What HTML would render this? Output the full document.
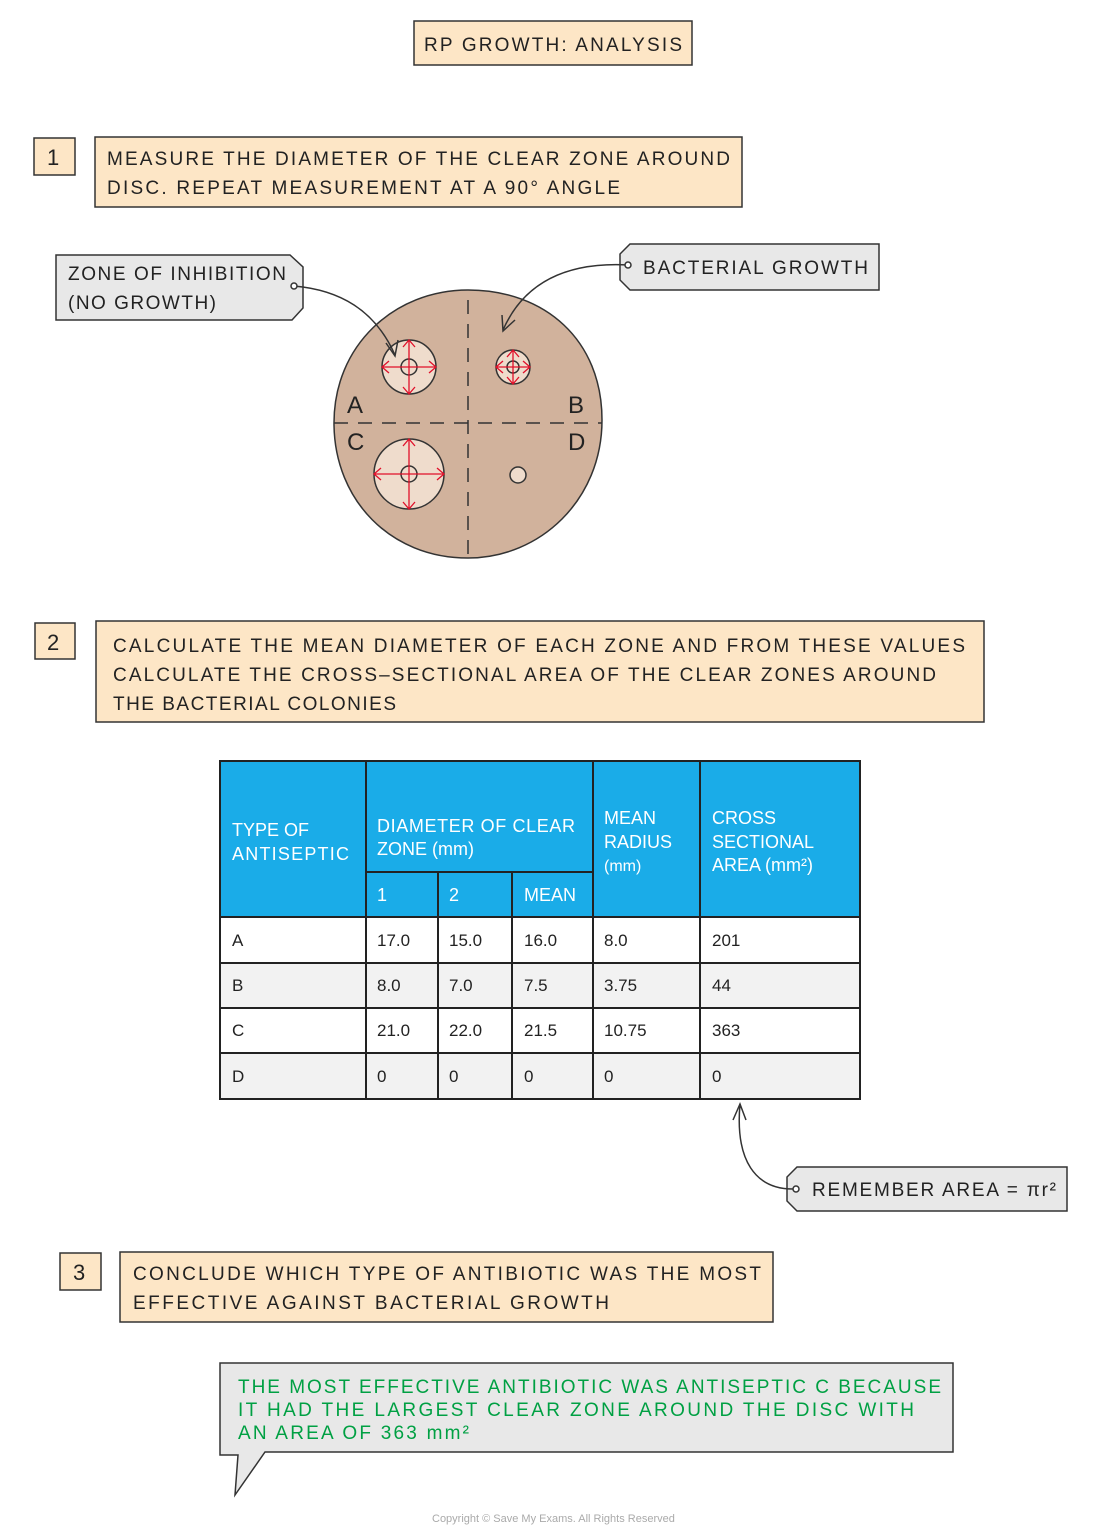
<!DOCTYPE html>
<html><head><meta charset="utf-8"><style>
html,body{margin:0;padding:0;background:#fff;}
svg{display:block;}
text{font-family:"Liberation Sans",sans-serif;}
</style></head><body>
<svg width="1100" height="1538" viewBox="0 0 1100 1538" xmlns="http://www.w3.org/2000/svg">
<defs>
<marker id="ar" markerWidth="14" markerHeight="14" refX="9" refY="7" orient="auto-start-reverse" markerUnits="userSpaceOnUse">
<path d="M2,1 L9,7 L2,13" fill="none" stroke="#e0102a" stroke-width="1.3"/></marker>
</defs>
<g font-size="19" fill="#222" stroke="#333" stroke-width="1.5">
<rect x="414" y="21" width="278" height="44" fill="#fde6c6"/>
<text x="424" y="51" stroke="none" textLength="258">RP  GROWTH:  ANALYSIS</text>

<rect x="34" y="138" width="41" height="37" fill="#fde6c6"/>
<text x="47" y="165" stroke="none" font-size="22">1</text>
<rect x="95" y="137" width="647" height="70" fill="#fde6c6"/>
<text x="107" y="165" stroke="none" textLength="623">MEASURE  THE  DIAMETER  OF  THE  CLEAR  ZONE  AROUND</text>
<text x="107" y="194" stroke="none" textLength="513">DISC.  REPEAT  MEASUREMENT  AT  A  90° ANGLE</text>

<path d="M56,255 H290 L303,267 V308 L292,320 H56 Z" fill="#e8e8e8"/>
<text x="68" y="280" stroke="none" textLength="218">ZONE  OF  INHIBITION</text>
<text x="68" y="309" stroke="none" textLength="148">(NO  GROWTH)</text>
<path d="M630,244 H879 V290 H630 L620,280 V254 Z" fill="#e8e8e8"/>
<text x="643" y="274" stroke="none" textLength="225">BACTERIAL   GROWTH</text>

<path d="M468,290 C545,290 602,340 602,420 C602,500 540,558 468,558 C390,558 335,500 334,425 C333,345 395,290 468,290 Z" fill="#d1b29c"/>
<g stroke-dasharray="14,10">
<line x1="468" y1="300" x2="468" y2="556"/>
<line x1="334" y1="423" x2="602" y2="423"/>
</g>
<text x="347" y="413" stroke="none" font-size="24">A</text>
<text x="568" y="413" stroke="none" font-size="24">B</text>
<text x="347" y="450" stroke="none" font-size="24">C</text>
<text x="568" y="450" stroke="none" font-size="24">D</text>
<circle cx="409" cy="367" r="27" fill="#efdccc"/>
<circle cx="409" cy="367" r="8" fill="none"/>
<circle cx="513" cy="367" r="17" fill="#efdccc"/>
<circle cx="513" cy="367" r="6" fill="none"/>
<circle cx="409" cy="474" r="35" fill="#efdccc"/>
<circle cx="409" cy="474" r="8" fill="none"/>
<circle cx="518" cy="475" r="8" fill="#efdccc"/>
<g stroke="#e0102a" stroke-width="1.3" marker-start="url(#ar)" marker-end="url(#ar)">
<line x1="382" y1="367" x2="436" y2="367"/><line x1="409" y1="340" x2="409" y2="394"/>
<line x1="496" y1="367" x2="530" y2="367"/><line x1="513" y1="350" x2="513" y2="384"/>
<line x1="374" y1="474" x2="444" y2="474"/><line x1="409" y1="439" x2="409" y2="509"/>
</g>
<g fill="none">
<path d="M294,286 C340,290 375,310 395,355"/>
<path d="M386,343 L395,356 L398,340"/>
<path d="M628,265 C570,262 525,280 503,330"/>
<path d="M502,315 L503,331 L515,320"/>
</g>
<circle cx="294" cy="286" r="3" fill="#fff"/>
<circle cx="628" cy="265" r="3" fill="#fff"/>

<rect x="35" y="623" width="40" height="36" fill="#fde6c6"/>
<text x="47" y="650" stroke="none" font-size="22">2</text>
<rect x="96" y="621" width="888" height="101" fill="#fde6c6"/>
<text x="113" y="652" stroke="none" textLength="852">CALCULATE  THE  MEAN  DIAMETER  OF  EACH  ZONE  AND  FROM  THESE  VALUES</text>
<text x="113" y="681" stroke="none" textLength="823">CALCULATE  THE  CROSS–SECTIONAL  AREA  OF  THE  CLEAR  ZONES  AROUND</text>
<text x="113" y="710" stroke="none" textLength="283">THE  BACTERIAL  COLONIES</text>

<rect x="220" y="761" width="640" height="156" fill="#1aace8"/>
<rect x="220" y="917" width="640" height="46" fill="#fff"/>
<rect x="220" y="963" width="640" height="45" fill="#f2f2f2"/>
<rect x="220" y="1008" width="640" height="45" fill="#fff"/>
<rect x="220" y="1053" width="640" height="46" fill="#f2f2f2"/>
<g stroke="#222" stroke-width="2">
<rect x="220" y="761" width="640" height="338" fill="none"/>
<line x1="366" y1="761" x2="366" y2="1099"/>
<line x1="438" y1="872" x2="438" y2="1099"/>
<line x1="512" y1="872" x2="512" y2="1099"/>
<line x1="593" y1="761" x2="593" y2="1099"/>
<line x1="700" y1="761" x2="700" y2="1099"/>
<line x1="366" y1="872" x2="593" y2="872"/>
<line x1="220" y1="917" x2="860" y2="917"/>
<line x1="220" y1="963" x2="860" y2="963"/>
<line x1="220" y1="1008" x2="860" y2="1008"/>
<line x1="220" y1="1053" x2="860" y2="1053"/>
</g>
<g stroke="none" fill="#fff" font-size="18">
<text x="232" y="836">TYPE OF</text><text x="232" y="860" textLength="117">ANTISEPTIC</text>
<text x="377" y="832" textLength="198">DIAMETER OF CLEAR</text><text x="377" y="855">ZONE  (mm)</text>
<text x="377" y="901">1</text><text x="449" y="901">2</text><text x="524" y="901">MEAN</text>
<text x="604" y="824">MEAN</text><text x="604" y="848">RADIUS</text><text x="604" y="871" font-size="16">(mm)</text>
<text x="712" y="824">CROSS</text><text x="712" y="848">SECTIONAL</text><text x="712" y="871">AREA (mm²)</text>
</g>
<g stroke="none" fill="#222" font-size="17">
<text x="232" y="946">A</text><text x="377" y="946">17.0</text><text x="449" y="946">15.0</text><text x="524" y="946">16.0</text><text x="604" y="946">8.0</text><text x="712" y="946">201</text>
<text x="232" y="991">B</text><text x="377" y="991">8.0</text><text x="449" y="991">7.0</text><text x="524" y="991">7.5</text><text x="604" y="991">3.75</text><text x="712" y="991">44</text>
<text x="232" y="1036">C</text><text x="377" y="1036">21.0</text><text x="449" y="1036">22.0</text><text x="524" y="1036">21.5</text><text x="604" y="1036">10.75</text><text x="712" y="1036">363</text>
<text x="232" y="1082">D</text><text x="377" y="1082">0</text><text x="449" y="1082">0</text><text x="524" y="1082">0</text><text x="604" y="1082">0</text><text x="712" y="1082">0</text>
</g>

<path d="M797,1167 H1067 V1211 H797 L787,1201 V1177 Z" fill="#e8e8e8"/>
<text x="812" y="1196" stroke="none" textLength="244">REMEMBER   AREA  =  πr²</text>
<path d="M795,1189 C755,1190 735,1160 740,1104" fill="none"/>
<path d="M733,1120 L740,1104 L746,1120" fill="none"/>
<circle cx="796" cy="1189" r="3" fill="#fff"/>

<rect x="60" y="1253" width="41" height="37" fill="#fde6c6"/>
<text x="73" y="1280" stroke="none" font-size="22">3</text>
<rect x="120" y="1252" width="653" height="70" fill="#fde6c6"/>
<text x="133" y="1280" stroke="none" textLength="628">CONCLUDE   WHICH  TYPE  OF  ANTIBIOTIC  WAS  THE  MOST</text>
<text x="133" y="1309" stroke="none" textLength="476">EFFECTIVE    AGAINST   BACTERIAL   GROWTH</text>

<path d="M220,1363 H953 V1452 H265 L235,1495 L238,1455 H220 Z" fill="#e8e8e8"/>
<g stroke="none" fill="#00a043">
<text x="238" y="1393" textLength="703">THE  MOST  EFFECTIVE ANTIBIOTIC  WAS  ANTISEPTIC  C  BECAUSE</text>
<text x="238" y="1416" textLength="676">IT  HAD  THE  LARGEST  CLEAR  ZONE  AROUND  THE  DISC  WITH</text>
<text x="238" y="1439" textLength="231">AN  AREA  OF  363 mm²</text>
</g>
<text x="432" y="1522" stroke="none" fill="#aaa" font-size="11">Copyright © Save My Exams. All Rights Reserved</text>
</g>
</svg>
</body></html>
